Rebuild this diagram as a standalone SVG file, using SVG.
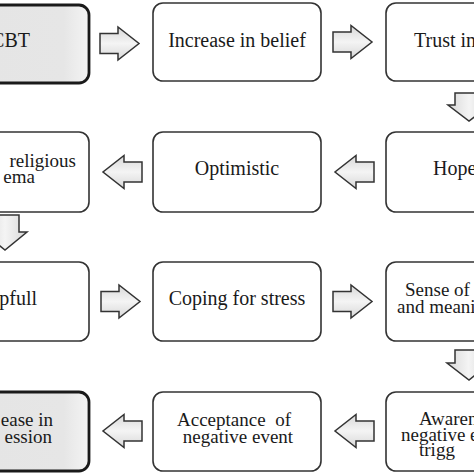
<svg xmlns="http://www.w3.org/2000/svg" width="474" height="474" viewBox="0 0 474 474">
<defs>
<linearGradient id="gbox" x1="0" y1="0" x2="1" y2="0">
<stop offset="0" stop-color="#e4e4e4"/><stop offset="0.85" stop-color="#e6e6e6"/><stop offset="1" stop-color="#f4f4f4"/>
</linearGradient>
<linearGradient id="garrH" x1="0" y1="0" x2="0" y2="1">
<stop offset="0" stop-color="#d8d8d8"/><stop offset="0.5" stop-color="#f4f4f4"/><stop offset="1" stop-color="#d8d8d8"/>
</linearGradient>
<linearGradient id="garrV" x1="0" y1="0" x2="1" y2="0">
<stop offset="0" stop-color="#d8d8d8"/><stop offset="0.5" stop-color="#f4f4f4"/><stop offset="1" stop-color="#d8d8d8"/>
</linearGradient>
<path id="arrR" d="M0,-10 H18 V-16.5 L39,0 L18,16.5 V10 H0 Z"/>
<path id="arrL" d="M0,-10 H-18 V-16.5 L-39,0 L-18,16.5 V10 H0 Z"/>
</defs>
<style>
.box{fill:#fff;stroke:#333;stroke-width:1.6}
.gbox{fill:url(#gbox);stroke:#1a1a1a;stroke-width:2.8}
.ah{fill:url(#garrH);stroke:#333;stroke-width:1.5;stroke-linejoin:miter}
.av{fill:url(#garrV);stroke:#333;stroke-width:1.5;stroke-linejoin:miter}
text{font-family:"Liberation Serif","Times New Roman",serif;font-size:20px;fill:#1a1a1a}
.two{font-size:19px}
</style>
<rect width="474" height="474" fill="#fff"/>
<g id="connectors">
<use href="#arrR" class="ah" transform="translate(100,43.5)"/>
<use href="#arrR" class="ah" transform="translate(333,42)"/>
<path class="av" d="M455,93 H483 V105 H490 L469,121 L448,105 H455 Z"/>
<use href="#arrL" class="ah" transform="translate(374,172)"/>
<use href="#arrL" class="ah" transform="translate(142,172)"/>
<path class="av" d="M-8,215 H19 V232 H27 L5,250 L-17,232 H-8 Z"/>
<use href="#arrR" class="ah" transform="translate(101,301.5)"/>
<use href="#arrR" class="ah" transform="translate(333,301.5)"/>
<path class="av" d="M455,350 H483 V363 H490 L469,380 L447,363 H455 Z"/>
<use href="#arrL" class="ah" transform="translate(374,431)"/>
<use href="#arrL" class="ah" transform="translate(142,431)"/>
</g>
<g id="n-cbt">
<rect class="gbox" x="-80" y="5" width="169" height="78" rx="10"/>
<text x="30" y="47" text-anchor="end">CBT</text>
</g>
<g id="n-increase">
<rect class="box" x="153" y="3" width="168" height="78" rx="10"/>
<text x="237" y="47" text-anchor="middle">Increase in belief</text>
</g>
<g id="n-trust">
<rect class="box" x="386" y="3" width="168" height="78" rx="10"/>
<text x="414" y="47">Trust in</text>
</g>
<g id="n-hope">
<rect class="box" x="386" y="132" width="168" height="80" rx="10"/>
<text x="433" y="175">Hope</text>
</g>
<g id="n-optimistic">
<rect class="box" x="153" y="132" width="168" height="80" rx="10"/>
<text x="237" y="175" text-anchor="middle">Optimistic</text>
</g>
<g id="n-religious">
<rect class="box" x="-80" y="132" width="169" height="80" rx="10"/>
<text class="two" x="76" y="167" text-anchor="end">religious</text>
<text class="two" x="35" y="183" text-anchor="end">ema</text>
</g>
<g id="n-helpfull">
<rect class="box" x="-80" y="262" width="169" height="79" rx="10"/>
<text x="37" y="305" text-anchor="end">pfull</text>
</g>
<g id="n-coping">
<rect class="box" x="153" y="262" width="168" height="79" rx="10"/>
<text x="237" y="305" text-anchor="middle">Coping for stress</text>
</g>
<g id="n-sense">
<rect class="box" x="386" y="262" width="168" height="79" rx="10"/>
<text class="two" x="405" y="296">Sense of</text>
<text class="two" x="397" y="313">and meani</text>
</g>
<g id="n-awareness">
<rect class="box" x="386" y="392" width="168" height="79" rx="10"/>
<text class="two" x="419" y="425">Awaren</text>
<text class="two" x="401" y="441">negative e</text>
<text class="two" x="419" y="456">trigg</text>
</g>
<g id="n-acceptance">
<rect class="box" x="153" y="392" width="168" height="79" rx="10"/>
<text class="two" x="177" y="426" word-spacing="5">Acceptance of</text>
<text class="two" x="238" y="443" text-anchor="middle">negative event</text>
</g>
<g id="n-decrease">
<rect class="gbox" x="-80" y="392" width="169" height="79" rx="10"/>
<text class="two" x="53" y="426" text-anchor="end">ease in</text>
<text class="two" x="52" y="443" text-anchor="end">ession</text>
</g>
</svg>
